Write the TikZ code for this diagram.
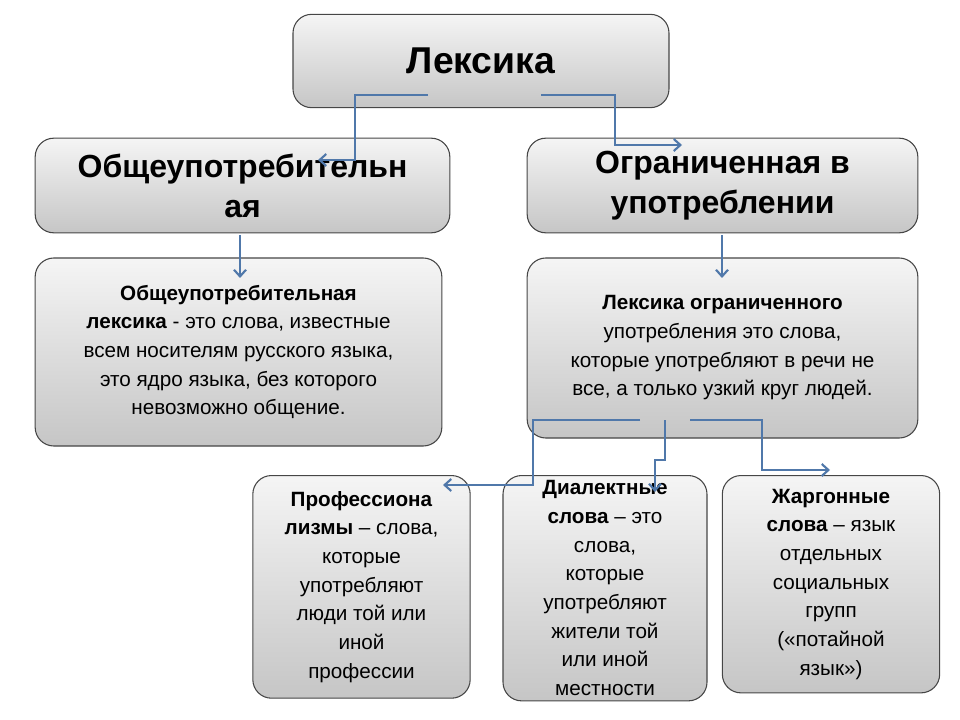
\documentclass[tikz,border=0pt]{standalone}
\usepackage{fontspec}
\setmainfont{Liberation Sans}
\usetikzlibrary{arrows.meta}
\begin{document}
\begin{tikzpicture}[x=0.75pt,y=-0.75pt]
%% styles for boxes and links
\tikzstyle{box}=[draw=gray!55!black,line width=0.8pt,rounded corners=14pt,top color=gray!8,bottom color=gray!45,align=center,inner sep=2pt]
\tikzstyle{head}=[box,font=\bfseries\fontsize{24}{30}\selectfont]
\tikzstyle{txt}=[box,font=\fontsize{15.5}{21.5}\selectfont]
\tikzstyle{link}=[draw={rgb,255:red,80;green,120;blue,170},line width=1.6pt]
\tikzstyle{arc}=[link,-{Straight Barb[length=5pt,width=9pt]}]
\useasboundingbox (0,0) rectangle (960,720);
%% boxes
\node[head,minimum width=282pt,minimum height=70pt,font=\bfseries\fontsize{28}{32}\selectfont] at (481,61) (lex) {Лексика};
\node[head,minimum width=311pt,minimum height=71pt] at (242.5,185.5) (gen) {Общеупотребительн\\ая};
\node[head,minimum width=293pt,minimum height=71pt] at (722.5,185.5) (lim) {Ограниченная в\\употреблении};
\node[txt,minimum width=305pt,minimum height=141pt] at (238.5,352) (gend) {\textbf{Общеупотребительная}\\\textbf{лексика} - это слова, известные\\всем носителям русского языка,\\это ядро языка, без которого\\невозможно общение.};
\node[txt,minimum width=293pt,minimum height=135pt] at (722.5,348) (limd) {\textbf{Лексика ограниченного}\\употребления это слова,\\которые употребляют в речи не\\все, а только узкий круг людей.};
\node[txt,minimum width=163pt,minimum height=167pt,anchor=north] at (361.5,475) (prof) {\textbf{Профессиона}\\\textbf{лизмы} -- слова,\\которые\\употребляют\\люди той или\\иной\\профессии};
\node[txt,minimum width=153pt,minimum height=169pt,anchor=north] at (605,475) (dial) {\textbf{Диалектные}\\\textbf{слова} -- это\\слова,\\которые\\употребляют\\жители той\\или иной\\местности};
\node[txt,minimum width=163pt,minimum height=163pt,anchor=north] at (831,475) (jarg) {\textbf{Жаргонные}\\\textbf{слова} -- язык\\отдельных\\социальных\\групп\\(«потайной\\язык»)};
%% links
\draw[arc] (428,95) -- (355,95) -- (355,160) -- (318,160);
\draw[arc] (541,95) -- (615,95) -- (615,145) -- (682,145);
\draw[arc] (240,235) -- (240,278);
\draw[arc] (722,235) -- (722,278);
\draw[arc] (640,420) -- (533,420) -- (533,485) -- (443,485);
\draw[arc] (665,420) -- (665,460) -- (655,460) -- (655,492);
\draw[arc] (690,420) -- (762,420) -- (762,470) -- (830,470);
\end{tikzpicture}
\end{document}
